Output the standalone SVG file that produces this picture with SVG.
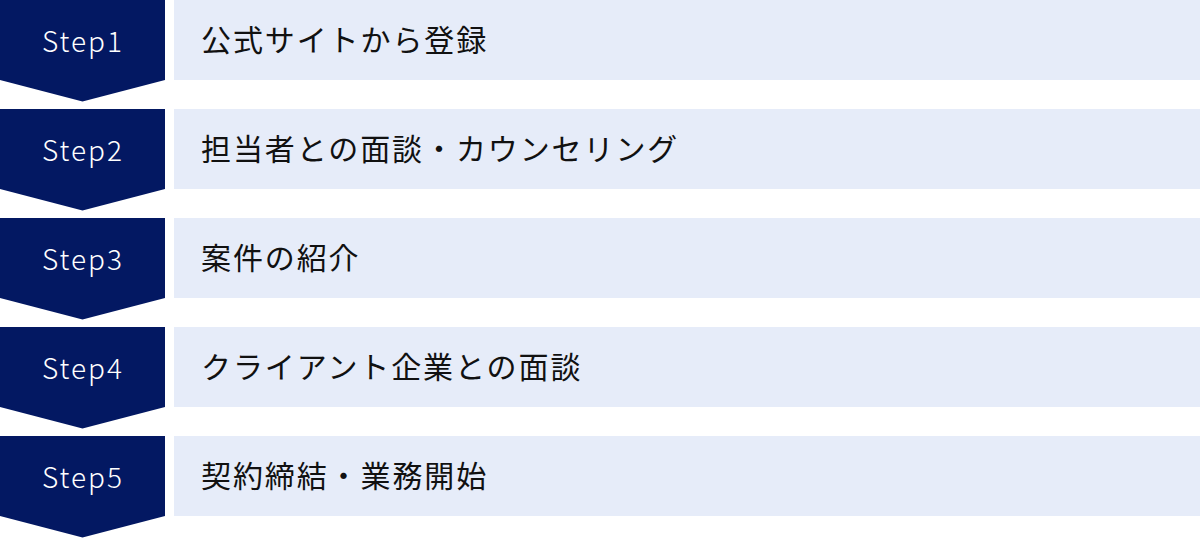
<svg xmlns="http://www.w3.org/2000/svg" width="1200" height="538" viewBox="0 0 1200 538">
<style>
.step{fill:#031862}
.box{fill:#E6ECF9}
.st{font-family:"Noto Sans CJK JP","Noto Sans",sans-serif;font-size:28px;font-weight:300;fill:#FFFFFF;text-anchor:middle;letter-spacing:2px}
.lb{font-family:"Noto Sans CJK JP","Noto Sans",sans-serif;font-size:30px;fill:#111111;letter-spacing:1.9px}
</style>
<rect width="1200" height="538" fill="#FFFFFF"/>
<g id="step1">
<path class="step" d="M0 0H165V80L82.5 101.5L0 80Z"/>
<rect class="box" x="174" y="0" width="1026" height="80"/>
<text class="st" x="83" y="52">Step1</text>
<text class="lb" x="201" y="51">公式サイトから登録</text>
</g>
<g id="step2" transform="translate(0,109)">
<path class="step" d="M0 0H165V80L82.5 101.5L0 80Z"/>
<rect class="box" x="174" y="0" width="1026" height="80"/>
<text class="st" x="83" y="52">Step2</text>
<text class="lb" x="201" y="51">担当者との面談・カウンセリング</text>
</g>
<g id="step3" transform="translate(0,218)">
<path class="step" d="M0 0H165V80L82.5 101.5L0 80Z"/>
<rect class="box" x="174" y="0" width="1026" height="80"/>
<text class="st" x="83" y="52">Step3</text>
<text class="lb" x="201" y="51">案件の紹介</text>
</g>
<g id="step4" transform="translate(0,327)">
<path class="step" d="M0 0H165V80L82.5 101.5L0 80Z"/>
<rect class="box" x="174" y="0" width="1026" height="80"/>
<text class="st" x="83" y="52">Step4</text>
<text class="lb" x="201" y="51">クライアント企業との面談</text>
</g>
<g id="step5" transform="translate(0,436)">
<path class="step" d="M0 0H165V80L82.5 101.5L0 80Z"/>
<rect class="box" x="174" y="0" width="1026" height="80"/>
<text class="st" x="83" y="52">Step5</text>
<text class="lb" x="201" y="51">契約締結・業務開始</text>
</g>
<g id="connectors"></g>
</svg>
